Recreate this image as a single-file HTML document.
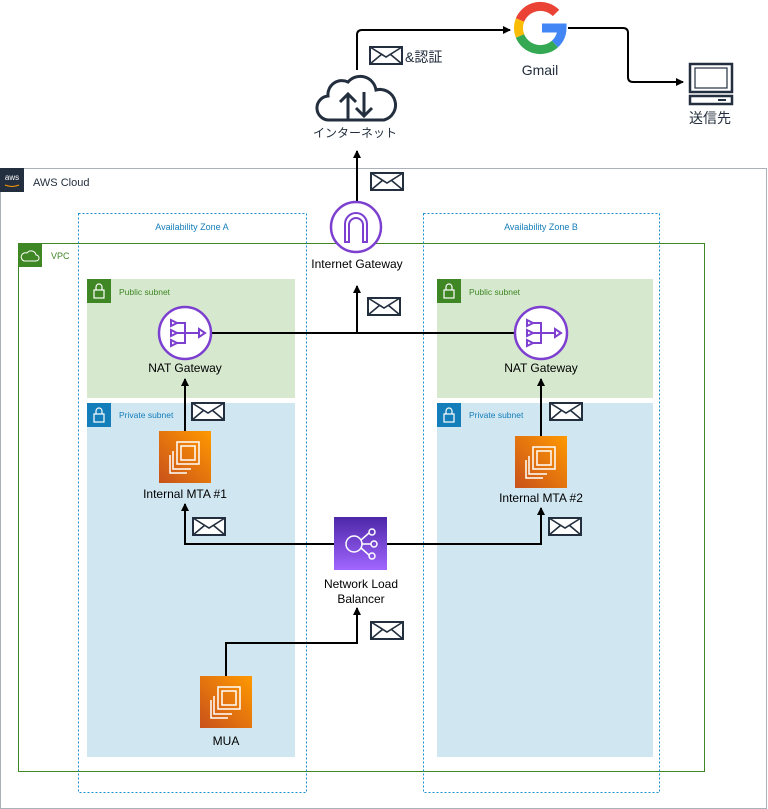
<!DOCTYPE html>
<html><head><meta charset="utf-8"><style>
html,body{margin:0;padding:0;background:#fff;}
svg{display:block;font-family:"Liberation Sans","Noto Sans CJK JP",sans-serif;}
</style></head><body>
<svg width="768" height="809" viewBox="0 0 768 809" xmlns="http://www.w3.org/2000/svg">
<defs>
<marker id="ar" markerWidth="8" markerHeight="8" refX="7" refY="4" orient="auto" markerUnits="userSpaceOnUse">
<path d="M0,0 L8,4 L0,8 Z" fill="#000"/></marker>
<g id="env"><rect x="0" y="0" width="32" height="17" fill="#fff" stroke="#232f3e" stroke-width="2"/><path d="M0,0 L16,10 L32,0 M0,17 L12,7 M32,17 L20,7" fill="none" stroke="#232f3e" stroke-width="1.6"/></g>
<linearGradient id="og" x1="0" y1="1" x2="1" y2="0"><stop offset="0" stop-color="#c8511b"/><stop offset="1" stop-color="#ff9900"/></linearGradient>
<linearGradient id="pg" x1="0" y1="1" x2="0" y2="0"><stop offset="0" stop-color="#a166ff"/><stop offset="1" stop-color="#4d27a8"/></linearGradient>
<g id="ec2"><rect width="52" height="52" fill="url(#og)"/><g fill="none" stroke="#fff" stroke-width="1.5"><rect x="18" y="11" width="22" height="22"/><path d="M14,20 V38 H32"/><path d="M11,24 V42 H28"/><rect x="22" y="15" width="14" height="14"/></g></g>
<g id="nat"><circle r="26" fill="#fff" stroke="#7d3fd0" stroke-width="2.5"/><g fill="none" stroke="#7d3fd0" stroke-width="2"><path d="M-14,-13 l6,3 -6,3 z M-14,-3 l6,3 -6,3 z M-14,7 l6,3 -6,3 z"/><path d="M-8,-10 H0 V10 H-8 M-8,0 H14 M14,-4 l6,4 -6,4 z"/></g></g>
</defs>

<rect x="0.5" y="168.5" width="766" height="640" fill="none" stroke="#aab1b8" stroke-width="1"/>
<rect x="0" y="168" width="24" height="24" fill="#232f3e"/>
<text x="12" y="180" font-size="8" fill="#fff" text-anchor="middle">aws</text>
<path d="M5,185 q7,3 14,0" stroke="#f90" fill="none" stroke-width="1"/>
<text x="33" y="186" font-size="11" fill="#232f3e">AWS Cloud</text>

<rect x="87" y="279" width="208" height="119" fill="#d6e9cf"/>
<rect x="87" y="403" width="208" height="354" fill="#d0e6f1"/>
<rect x="437" y="279" width="216" height="119" fill="#d6e9cf"/>
<rect x="437" y="403" width="216" height="354" fill="#d0e6f1"/>
<rect x="87" y="279" width="24" height="24" fill="#3f8624"/>
<rect x="87" y="403" width="24" height="24" fill="#147eba"/>
<rect x="437" y="279" width="24" height="24" fill="#3f8624"/>
<rect x="437" y="403" width="24" height="24" fill="#147eba"/>
<g fill="none" stroke="#fff" stroke-width="1.2">
<rect x="94" y="290" width="10" height="8"/><path d="M96,290 v-3 a3,3 0 0 1 6,0 v3"/>
<rect x="94" y="414" width="10" height="8"/><path d="M96,414 v-3 a3,3 0 0 1 6,0 v3"/>
<rect x="444" y="290" width="10" height="8"/><path d="M446,290 v-3 a3,3 0 0 1 6,0 v3"/>
<rect x="444" y="414" width="10" height="8"/><path d="M446,414 v-3 a3,3 0 0 1 6,0 v3"/>
</g>
<text x="119" y="295" font-size="8.5" fill="#3f8624">Public subnet</text>
<text x="119" y="418" font-size="8.5" fill="#147eba">Private subnet</text>
<text x="469" y="295" font-size="8.5" fill="#3f8624">Public subnet</text>
<text x="469" y="418" font-size="8.5" fill="#147eba">Private subnet</text>

<rect x="18.5" y="243.5" width="686" height="528" fill="none" stroke="#3f8624" stroke-width="1"/>
<rect x="18" y="243" width="24" height="24" fill="#3f8624"/>
<path d="M24,261 h12 a3,3 0 0 0 0,-6 a5,5 0 0 0 -9,-2 a3,3 0 0 0 -3,8z" fill="none" stroke="#fff" stroke-width="1"/>
<text x="51" y="259" font-size="9" fill="#3f8624">VPC</text>

<rect x="78.5" y="213.5" width="228" height="579" fill="none" stroke="#1a8fd6" stroke-dasharray="2,2"/>
<rect x="423.5" y="213.5" width="236" height="579" fill="none" stroke="#1a8fd6" stroke-dasharray="2,2"/>
<text x="192" y="230" font-size="9" fill="#147eba" text-anchor="middle">Availability Zone A</text>
<text x="541" y="230" font-size="9" fill="#147eba" text-anchor="middle">Availability Zone B</text>

<g stroke="#000" stroke-width="2" fill="none">
<path d="M211,333 H515"/>
<path d="M357,333 V286" marker-end="url(#ar)"/>
<path d="M357,202 V151" marker-end="url(#ar)"/>
<path d="M357,70 V35 q0,-5 5,-5 H510" marker-end="url(#ar)"/>
<path d="M568,28 H623 q5,0 5,5 V77 q0,5 5,5 H683" marker-end="url(#ar)"/>
<path d="M185,431 V379" marker-end="url(#ar)"/>
<path d="M541,436 V379" marker-end="url(#ar)"/>
<path d="M334,544 H185 V504" marker-end="url(#ar)"/>
<path d="M387,544 H541 V508" marker-end="url(#ar)"/>
<path d="M226,676 V643 H357 V608" marker-end="url(#ar)"/>
</g>

<circle cx="356" cy="227" r="25" fill="#fff" stroke="#7d3fd0" stroke-width="2.5"/>
<path d="M345,242 V224 a11,11 0 0 1 22,0 V242 h-4 V225 a7,7 0 0 0 -14,0 V242 z" fill="none" stroke="#7d3fd0" stroke-width="2"/>
<text x="357" y="268" font-size="12" fill="#000" text-anchor="middle">Internet Gateway</text>

<use href="#nat" x="185" y="333"/>
<use href="#nat" x="541" y="333"/>
<text x="185" y="372" font-size="12" text-anchor="middle">NAT Gateway</text>
<text x="541" y="372" font-size="12" text-anchor="middle">NAT Gateway</text>

<use href="#ec2" x="159" y="431"/>
<text x="185" y="498" font-size="12" text-anchor="middle">Internal MTA #1</text>
<use href="#ec2" x="515" y="436"/>
<text x="541" y="502" font-size="12" text-anchor="middle">Internal MTA #2</text>
<use href="#ec2" x="200" y="676"/>
<text x="226" y="745" font-size="12" text-anchor="middle">MUA</text>

<rect x="334" y="517" width="53" height="53" fill="url(#pg)"/>
<g fill="none" stroke="#fff" stroke-width="1.5"><circle cx="354" cy="544" r="8"/><circle cx="372" cy="532" r="3"/><circle cx="374" cy="544" r="3"/><circle cx="372" cy="556" r="3"/><path d="M361,540 L369,533 M362,544 H371 M361,548 L369,555"/></g>
<text x="361" y="588" font-size="12" text-anchor="middle">Network Load</text>
<text x="361" y="603" font-size="12" text-anchor="middle">Balancer</text>

<path d="M330,120 a12,12 0 0 1 -2,-24 a14,14 0 0 1 20,-14 a16,16 0 0 1 28,8 a14,14 0 0 1 8,30 z" fill="none" stroke="#232f3e" stroke-width="3"/>
<path d="M348,120 V94 M340,102 l8,-8 8,8 M364,92 V116 M356,108 l8,8 8,-8 M344,120 h8 M360,120 h8" fill="none" stroke="#232f3e" stroke-width="3"/>
<text x="355" y="137" font-size="12" fill="#232f3e" text-anchor="middle">インターネット</text>

<g transform="translate(540,28)">
<path d="M16,-15 A22,22 0 0 0 -20,-8" stroke="#ea4335" stroke-width="9" fill="none"/>
<path d="M-20,-8 A22,22 0 0 0 -20,8" stroke="#fbbc05" stroke-width="9" fill="none"/>
<path d="M-20,8 A22,22 0 0 0 15,16" stroke="#34a853" stroke-width="9" fill="none"/>
<path d="M15,16 A22,22 0 0 0 22,0 H2" stroke="#4285f4" stroke-width="9" fill="none"/>
</g>
<text x="540" y="75" font-size="14" fill="#232f3e" text-anchor="middle">Gmail</text>

<rect x="690" y="64" width="42" height="28" fill="none" stroke="#232f3e" stroke-width="2.5"/>
<rect x="695" y="68" width="32" height="20" fill="none" stroke="#232f3e" stroke-width="1.2"/>
<rect x="690" y="96" width="42" height="8" fill="none" stroke="#232f3e" stroke-width="2.5"/>
<rect x="718" y="99" width="8" height="2" fill="#232f3e"/>
<text x="710" y="123" font-size="14" fill="#232f3e" text-anchor="middle">送信先</text>

<use href="#env" x="370" y="47"/>
<text x="405" y="62" font-size="14" fill="#232f3e">&amp;認証</text>
<use href="#env" x="371" y="173"/>
<use href="#env" x="368" y="298"/>
<use href="#env" x="192" y="403"/>
<use href="#env" x="550" y="403"/>
<use href="#env" x="193" y="518"/>
<use href="#env" x="549" y="518"/>
<use href="#env" x="371" y="622"/>
</svg>
</body></html>
